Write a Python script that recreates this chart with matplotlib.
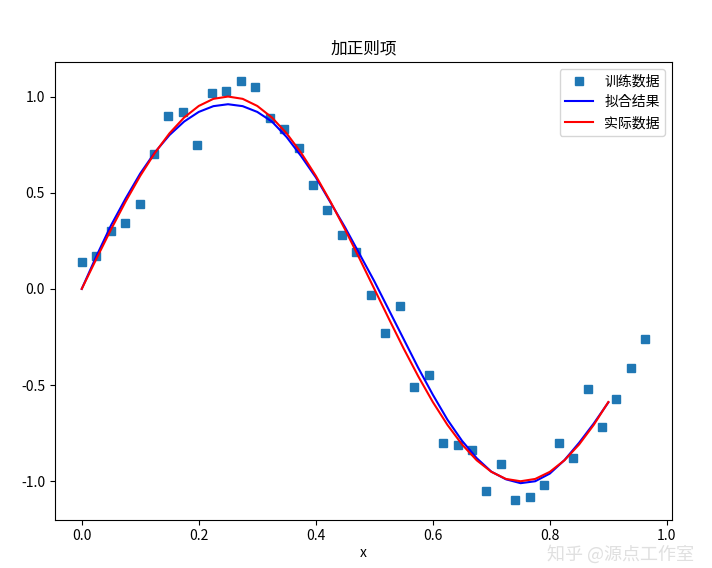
import matplotlib
matplotlib.use("Agg")
import matplotlib.pyplot as plt
from matplotlib import font_manager

names = {f.name for f in font_manager.fontManager.ttflist}
cjk = [n for n in ["Noto Sans CJK SC", "Noto Sans CJK JP", "Noto Sans CJK TC", "Noto Sans CJK KR"] if n in names]
plt.rcParams["font.family"] = cjk + ["DejaVu Sans"]
plt.rcParams["axes.unicode_minus"] = False

train_x = [i * 0.0247 for i in range(40)]
train_y = [0.14, 0.17, 0.30, 0.34, 0.44, 0.70, 0.90, 0.92, 0.75, 1.02,
           1.03, 1.08, 1.05, 0.89, 0.83, 0.73, 0.54, 0.41, 0.28, 0.19,
           -0.03, -0.23, -0.09, -0.51, -0.45, -0.80, -0.81, -0.84, -1.05, -0.91,
           -1.10, -1.08, -1.02, -0.80, -0.88, -0.52, -0.72, -0.57, -0.41, -0.26]
curve_x = [i * 0.025 for i in range(37)]
fit_y = [0.0, 0.17, 0.33, 0.47, 0.60, 0.71, 0.80, 0.87, 0.92, 0.95, 0.96, 0.95,
         0.92, 0.87, 0.79, 0.69, 0.58, 0.45, 0.32, 0.18, 0.04, -0.11, -0.26,
         -0.41, -0.55, -0.68, -0.79, -0.88, -0.95, -0.99, -1.01, -1.0, -0.96,
         -0.89, -0.80, -0.70, -0.59]
real_y = [0, 0.156, 0.309, 0.454, 0.588, 0.707, 0.809, 0.891, 0.951, 0.988, 1.0,
          0.988, 0.951, 0.891, 0.809, 0.707, 0.588, 0.454, 0.309, 0.156, 0,
          -0.156, -0.309, -0.454, -0.588, -0.707, -0.809, -0.891, -0.951, -0.988,
          -1.0, -0.988, -0.951, -0.891, -0.809, -0.707, -0.588]

fig = plt.figure(figsize=(7.12, 5.68), dpi=100)
ax = fig.add_axes([0.077, 0.085, 0.867, 0.806])
ax.plot(train_x, train_y, "s", color="#1f77b4", markersize=6, label="训练数据")
ax.plot(curve_x, fit_y, color="blue", label="拟合结果")
ax.plot(curve_x, real_y, color="red", label="实际数据")
ax.set_xlim(-0.046, 1.009)
ax.set_ylim(-1.20, 1.18)
ax.set_xticks([0, 0.2, 0.4, 0.6, 0.8, 1.0])
ax.set_yticks([-1.0, -0.5, 0.0, 0.5, 1.0])
ax.set_title("加正则项")
ax.set_xlabel("x", labelpad=2)
ax.legend(loc="upper right")
fig.text(0.975, 0.015, "知乎 @源点工作室", ha="right", fontsize=13, color="#e0e0e0")
fig.savefig("out.png", dpi=100)
